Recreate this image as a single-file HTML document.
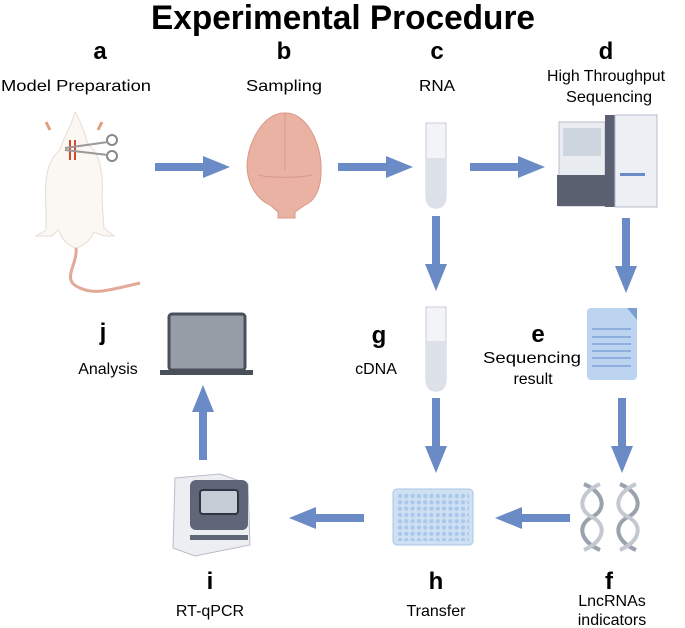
<!DOCTYPE html>
<html><head><meta charset="utf-8"><style>
html,body{margin:0;padding:0;background:#fff;}
svg{display:block;font-family:"Liberation Sans",Arial,sans-serif;}
</style></head><body>
<svg width="685" height="628" viewBox="0 0 685 628" xmlns="http://www.w3.org/2000/svg">
<defs>
<g id="ar"><rect x="0" y="-4" width="50" height="8" fill="#6a8bc5"/><polygon points="48,-11 75,0 48,11" fill="#6a8bc5"/></g>
</defs>
<!-- Title -->
<text x="151" y="29" font-size="34" font-weight="bold" textLength="384" lengthAdjust="spacingAndGlyphs">Experimental Procedure</text>
<g font-weight="bold" font-size="24" text-anchor="middle">
<text x="100" y="59">a</text><text x="284" y="59">b</text><text x="437" y="59">c</text><text x="606" y="59">d</text>
</g>
<g font-size="16" text-anchor="middle">
<text x="76" y="91" textLength="150" lengthAdjust="spacingAndGlyphs">Model Preparation</text>
<text x="284" y="91" textLength="76" lengthAdjust="spacingAndGlyphs">Sampling</text>
<text x="437" y="91" textLength="36" lengthAdjust="spacingAndGlyphs">RNA</text>
<text x="606" y="81" textLength="118" lengthAdjust="spacingAndGlyphs">High Throughput</text>
<text x="609" y="102" textLength="86" lengthAdjust="spacingAndGlyphs">Sequencing</text>
</g>
<!-- Second row labels -->
<g font-weight="bold" font-size="24" text-anchor="middle">
<text x="379" y="343">g</text><text x="538" y="342">e</text><text x="103" y="340">j</text>
<text x="210" y="589">i</text><text x="436" y="589">h</text><text x="609" y="589">f</text>
</g>
<g font-size="16" text-anchor="middle">
<text x="376" y="374">cDNA</text>
<text x="532" y="363" textLength="98" lengthAdjust="spacingAndGlyphs">Sequencing</text>
<text x="533" y="384">result</text>
<text x="108" y="374">Analysis</text>
<text x="210" y="616">RT-qPCR</text>
<text x="436" y="616">Transfer</text>
<text x="612" y="606">LncRNAs</text>
<text x="612" y="625">indicators</text>
</g>
<!-- Arrows -->
<use href="#ar" transform="translate(155,167)"/>
<use href="#ar" transform="translate(338,167)"/>
<use href="#ar" transform="translate(470,167)"/>
<use href="#ar" transform="translate(436,216) rotate(90)"/>
<use href="#ar" transform="translate(626,218) rotate(90)"/>
<use href="#ar" transform="translate(436,398) rotate(90)"/>
<use href="#ar" transform="translate(622,398) rotate(90)"/>
<use href="#ar" transform="translate(203,460) rotate(-90)"/>
<use href="#ar" transform="translate(364,518) rotate(180)"/>
<use href="#ar" transform="translate(570,518) rotate(180)"/>
<!-- Rat -->
<g>
<path d="M75,112 C70,130 62,140 60,150 C48,160 44,175 46,210 L46,230 L36,236 L52,236 L58,230 C62,238 66,245 76,248 C86,245 90,240 94,232 L104,236 L114,236 L104,228 L102,200 C104,170 98,150 88,145 C84,130 80,120 75,112Z" fill="#fbf7f3" stroke="#e6ddd6"/>
<path d="M76,248 C78,265 60,280 80,288 C95,295 110,290 140,283" fill="none" stroke="#e2a997" stroke-width="3"/>
<path d="M70,140 L70,160 M75,140 L75,160" stroke="#d24a2a" stroke-width="2"/>
<circle cx="112" cy="140" r="5" fill="none" stroke="#888" stroke-width="2"/>
<circle cx="112" cy="156" r="5" fill="none" stroke="#888" stroke-width="2"/>
<path d="M65,148 L108,142 M65,150 L108,155" stroke="#999" stroke-width="2"/>
<path d="M50,130 l-4,-8 M98,130 l4,-8" stroke="#e2a080" stroke-width="3"/>
</g>
<!-- Brain -->
<g>
<path d="M285,113 C265,112 248,140 247,165 C247,185 258,200 270,205 L278,212 L278,218 L295,218 L295,212 L305,205 C317,200 322,185 321,165 C320,140 305,112 285,113Z" fill="#eab2a2" stroke="#d9998a"/>
<path d="M285,113 L285,170" stroke="#d9998a"/>
<path d="M258,175 C270,178 300,178 312,175" fill="none" stroke="#d9998a"/>
</g>
<!-- RNA tube -->
<path d="M426,123 L446,123 L446,195 C446,205 442,208 436,208 C430,208 426,205 426,195Z" fill="#f3f4f7" stroke="#ccd"/>
<path d="M426,158 L446,158 L446,195 C446,205 442,208 436,208 C430,208 426,205 426,195Z" fill="#dde1ea"/>
<!-- Sequencer -->
<g>
<rect x="559" y="122" width="46" height="84" fill="#e9ecf0" stroke="#bbc"/>
<rect x="563" y="128" width="38" height="28" fill="#cdd5df"/>
<rect x="557" y="175" width="51" height="31" fill="#5b6170"/>
<rect x="605" y="115" width="10" height="92" fill="#5b6170"/>
<rect x="615" y="115" width="42" height="92" fill="#eceff3" stroke="#bbc"/>
<rect x="620" y="173" width="25" height="3" fill="#6a8bc5"/>
</g>
<!-- cDNA tube -->
<path d="M426,307 L446,307 L446,378 C446,388 442,391 436,391 C430,391 426,388 426,378Z" fill="#f3f4f7" stroke="#ccd"/>
<path d="M426,341 L446,341 L446,378 C446,388 442,391 436,391 C430,391 426,388 426,378Z" fill="#dde1ea"/>
<!-- Document -->
<rect x="587" y="308" width="50" height="72" rx="4" fill="#bcd4ef"/>
<polygon points="627,308 637,308 637,320" fill="#7c9fd2"/>
<g stroke="#7fa2d8" stroke-width="1.5"><line x1="592" y1="329" x2="631" y2="329"/><line x1="592" y1="337" x2="631" y2="337"/><line x1="592" y1="344" x2="631" y2="344"/><line x1="592" y1="351" x2="631" y2="351"/><line x1="592" y1="358" x2="631" y2="358"/><line x1="592" y1="366" x2="631" y2="366"/></g>
<!-- Laptop -->
<rect x="169" y="314" width="76" height="56" rx="3" fill="#979da6" stroke="#4a505a" stroke-width="3"/>
<rect x="160" y="370" width="93" height="5" fill="#4a505a"/>
<!-- qPCR -->
<g>
<path d="M175,478 L220,474 L248,484 L250,545 L195,556 L173,548Z" fill="#eceef2" stroke="#bbc"/>
<rect x="190" y="480" width="58" height="50" rx="6" fill="#5f6678"/>
<rect x="200" y="490" width="38" height="24" rx="3" fill="#c6ccd6" stroke="#2f3440" stroke-width="2"/>
<rect x="190" y="535" width="58" height="5" fill="#5f6678"/>
</g>
<!-- Plate -->
<rect x="393" y="489" width="80" height="56" rx="4" fill="#cfe0f3" stroke="#aac6e6"/>
<pattern id="wells" x="397" y="493" width="6.3" height="6.3" patternUnits="userSpaceOnUse"><circle cx="3" cy="3" r="2.2" fill="#aac8ec"/></pattern>
<rect x="397" y="493" width="72" height="48" fill="url(#wells)"/>
<!-- DNA -->
<g fill="none" stroke="#9aa2ae" stroke-width="4">
<path d="M584,484 C606,494 606,510 592,517 C578,524 578,540 600,550"/>
<path d="M600,484 C578,494 578,510 592,517 C606,524 606,540 584,550" stroke="#c4c9d1"/>
<path d="M620,484 C642,494 642,510 628,517 C614,524 614,540 636,550"/>
<path d="M636,484 C614,494 614,510 628,517 C642,524 642,540 620,550" stroke="#c4c9d1"/>
</g>
</svg>
</body></html>
